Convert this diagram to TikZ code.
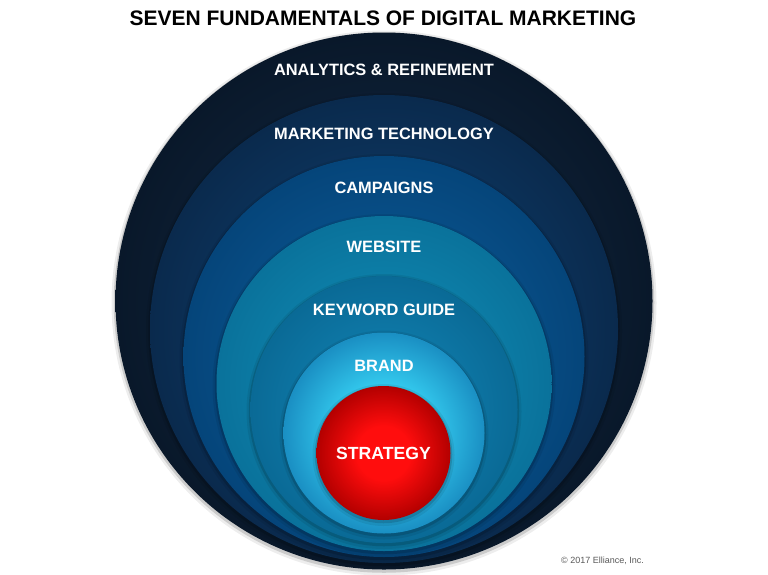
\documentclass[tikz,border=0pt]{standalone}
\usepackage{fontspec}
\setmainfont{Liberation Sans}
\usetikzlibrary{shadings}

\definecolor{analyticsin}{HTML}{10243C}
\definecolor{analyticsout}{HTML}{09182A}
\definecolor{technologyin}{HTML}{0E3A66}
\definecolor{technologyout}{HTML}{0A2A4D}
\definecolor{campaignsin}{HTML}{0A5590}
\definecolor{campaignsout}{HTML}{05457A}
\definecolor{websitein}{HTML}{0E85AE}
\definecolor{websiteout}{HTML}{0A729B}
\definecolor{keywordin}{HTML}{0F7CAB}
\definecolor{keywordout}{HTML}{0A6A96}
\definecolor{brandin}{HTML}{37D2F4}
\definecolor{brandout}{HTML}{1A8FC3}
\definecolor{strategyin}{HTML}{FF0D0D}
\definecolor{strategyout}{HTML}{B30000}

\colorlet{ringin}{brandin}
\colorlet{ringout}{brandout}
% path box maps to the middle 50bp, so the rim sits at 25bp
\pgfdeclareradialshading[ringin,ringout]{ringshade}{\pgfpoint{0bp}{0bp}}{%
  color(0bp)=(ringin); color(10bp)=(ringin); color(25bp)=(ringout);
  color(50bp)=(ringout)}

\tikzset{
  ring/.style={
    shading=ringshade,
    preaction={draw=black, draw opacity=.07, line width=8pt,
      transform canvas={yshift=-2pt}},
    preaction={draw=black, draw opacity=.14, line width=3.5pt,
      transform canvas={yshift=-1.5pt}},
  },
  ringlabel/.style={
    inner sep=0pt,
    text=white,
    font=\bfseries\fontsize{16.4}{18}\selectfont,
  }
}

\begin{document}
\begin{tikzpicture}[x=1pt, y=-1pt]
    \useasboundingbox (0,0) rectangle (768,574);
    \fill[white] (0,0) rectangle (768,574);

    \node[font=\bfseries\fontsize{21}{22}\selectfont, inner sep=0pt] (title)
        at (383,18) {SEVEN FUNDAMENTALS OF DIGITAL MARKETING};

        % rings, outside in, all nearly touching at the bottom
        \colorlet{ringin}{analyticsin}\colorlet{ringout}{analyticsout}
        \shade[ring] (384,301) circle[radius=268.5];
        \colorlet{ringin}{technologyin}\colorlet{ringout}{technologyout}
        \shade[ring] (384,329) circle[radius=234];
        \colorlet{ringin}{campaignsin}\colorlet{ringout}{campaignsout}
        \shade[ring] (384,356.5) circle[radius=200.5];
        \colorlet{ringin}{websitein}\colorlet{ringout}{websiteout}
        \shade[ring] (384,383.5) circle[radius=167.5];
        \colorlet{ringin}{keywordin}\colorlet{ringout}{keywordout}
        \shade[ring] (384,409.5) circle[radius=133.5];
        \colorlet{ringin}{brandin}\colorlet{ringout}{brandout}
        \shade[ring] (384,433) circle[radius=100.5];
        \colorlet{ringin}{strategyin}\colorlet{ringout}{strategyout}
        \shade[ring] (383.5,453) circle[radius=67];

    \node[ringlabel] (analytics) at (384,70) {ANALYTICS \& REFINEMENT};
    \node[ringlabel] (technology) at (384,133.5) {MARKETING TECHNOLOGY};
    \node[ringlabel] (campaigns) at (384,188) {CAMPAIGNS};
    \node[ringlabel] (website) at (384,247) {WEBSITE};
    \node[ringlabel] (keyword) at (384,310) {KEYWORD GUIDE};
    \node[ringlabel] (brand) at (384,366) {BRAND};
    \node[ringlabel, font=\bfseries\fontsize{17.6}{19}\selectfont] (strategy)
        at (383.5,453) {STRATEGY};

    \node[anchor=base east, inner sep=0pt, text=black!65,
        font=\fontsize{9}{10}\selectfont] (copyright)
        at (644,563) {© 2017 Elliance, Inc.};
\end{tikzpicture}
\end{document}
